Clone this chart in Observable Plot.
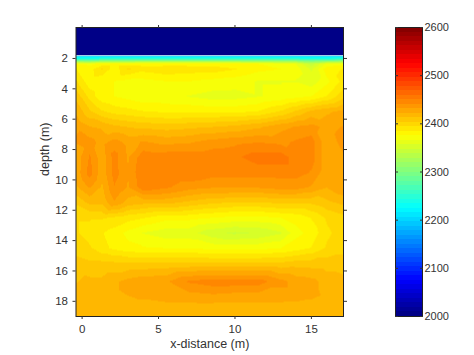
<!DOCTYPE html>
<html>
<head>
<meta charset="utf-8">
<script src="https://cdn.jsdelivr.net/npm/d3@7"></script>
<script src="https://cdn.jsdelivr.net/npm/@observablehq/plot@0.6"></script>
<style>
html,body{margin:0;padding:0;background:#fff;overflow:hidden}
#chart{position:relative;width:474px;height:355px}
#chart svg{position:absolute;left:0;top:0;background:transparent}
</style>
</head>
<body>
<div id="chart"></div>
<script>
const xStations = [-0.4, 0.5, 1.3, 2.1, 3, 4, 5.5, 7, 8.5, 10, 11.5, 13, 14, 15, 16, 17.1];
const depths = [0, 1.78, 1.85, 2, 2.15, 2.35, 2.7, 3.5, 4.5, 5.5, 6.5, 7.5, 8.5, 9.5, 10.5, 11.5, 12.5, 13.5, 14.5, 15.5, 16.7, 17.6, 18.5, 19];

const d00 = [2000,2000,2000,2000,2000,2000,2000,2000,2000,2000,2000,2000,2000,2000,2000,2000];
const d18 = [2000,2000,2000,2000,2000,2000,2000,2000,2000,2000,2000,2000,2000,2000,2000,2000];
const d19 = [2225,2225,2225,2225,2225,2225,2225,2225,2225,2225,2225,2225,2225,2225,2225,2225];
const d20 = [2235,2230,2240,2240,2240,2245,2245,2245,2245,2245,2245,2240,2240,2230,2235,2240];
const d22 = [2300,2295,2305,2305,2305,2310,2310,2310,2310,2310,2310,2305,2305,2295,2300,2305];
const d24 = [2375,2372,2378,2378,2378,2380,2380,2380,2380,2378,2375,2372,2365,2340,2368,2372];
const d27 = [2385,2380,2395,2378,2395,2388,2392,2390,2390,2385,2378,2375,2370,2355,2380,2385];
const d35 = [2395,2378,2375,2375,2372,2372,2375,2375,2372,2370,2365,2365,2365,2360,2372,2388];
const d45 = [2410,2390,2378,2375,2372,2368,2368,2365,2362,2362,2365,2368,2372,2375,2385,2400];
const d55 = [2420,2405,2395,2390,2388,2385,2383,2383,2382,2382,2385,2395,2405,2415,2420,2425];
const d65 = [2430,2422,2420,2415,2412,2410,2408,2410,2412,2415,2420,2428,2432,2435,2428,2432];
const d75 = [2432,2435,2428,2435,2428,2432,2428,2430,2435,2438,2440,2438,2442,2445,2425,2435];
const d85 = [2425,2442,2425,2445,2430,2447,2447,2447,2447,2448,2455,2455,2445,2445,2425,2430];
const d95 = [2425,2445,2425,2445,2432,2450,2450,2450,2445,2445,2445,2445,2445,2440,2425,2430];
const d105 = [2420,2432,2420,2440,2430,2447,2442,2435,2432,2432,2432,2435,2435,2430,2422,2430];
const d115 = [2405,2415,2415,2430,2418,2415,2415,2410,2405,2402,2402,2405,2405,2405,2410,2415];
const d125 = [2395,2395,2395,2392,2388,2385,2378,2378,2375,2372,2372,2375,2378,2385,2395,2400];
const d135 = [2395,2390,2385,2380,2372,2365,2360,2360,2350,2345,2348,2355,2372,2378,2392,2398];
const d145 = [2398,2395,2388,2382,2378,2376,2375,2375,2372,2372,2372,2375,2380,2385,2395,2400];
const d155 = [2408,2405,2405,2405,2405,2405,2405,2405,2405,2405,2405,2405,2408,2408,2408,2408];
const d165 = [2412,2415,2415,2420,2425,2428,2430,2442,2446,2446,2446,2434,2428,2425,2418,2415];
const d175 = [2420,2420,2422,2420,2422,2425,2428,2428,2430,2428,2428,2428,2428,2425,2420,2415];
const d185 = [2420,2418,2415,2415,2415,2415,2416,2416,2416,2416,2416,2416,2415,2415,2415,2415];
const d190 = [2418,2416,2415,2415,2415,2415,2415,2415,2415,2415,2415,2415,2415,2415,2415,2415];
const rows = [d00,d18,d19,d20,d22,d24,d27,d35,d45,d55,d65,d75,d85,d95,d105,d115,d125,d135,d145,d155,d165,d175,d185,d190];

const xTicks = [0, 5, 10, 15];
const yTicks = [2, 4, 6, 8, 10, 12, 14, 16, 18];
const barTicks = [2000, 2100, 2200, 2300, 2400, 2500, 2600];
const velocityDomain = [2000, 2600];
const surfaceDepth = [1.82];
const xLabel = "x-distance (m)";
const yLabel = "depth (m)";

const field = rows.flatMap((r, i) => r.map((v, j) => ({x: xStations[j], depth: depths[i], v})));

const clamp01 = t => Math.max(0, Math.min(1, t));
function jet(t) {
  const i = Math.min(63, Math.floor(clamp01(t) * 64));
  const u = (i + 0.5) / 64;
  const r = clamp01(Math.min(4 * u - 1.5, -4 * u + 4.5));
  const g = clamp01(Math.min(4 * u - 0.5, -4 * u + 3.5));
  const b = clamp01(Math.min(4 * u + 0.5, -4 * u + 2.5));
  return `rgb(${Math.round(r * 255)},${Math.round(g * 255)},${Math.round(b * 255)})`;
}
const colorScale = {type: "linear", domain: velocityDomain, interpolate: jet};
const ink = "#333";
const font = "Liberation Sans, Arial, sans-serif";

const main = Plot.plot({
  width: 474, height: 355,
  marginLeft: 75.5, marginRight: 131, marginTop: 27, marginBottom: 39,
  style: {fontFamily: font, color: ink, background: "transparent"},
  x: {domain: [-0.4, 17.1]},
  y: {domain: [-0.04, 19], reverse: true},
  color: colorScale,
  marks: [
    Plot.raster(field, {x: "x", y: "depth", fill: "v", interpolate: "barycentric", pixelSize: 1}),
    Plot.ruleY(surfaceDepth, {stroke: "#c8f4f4", strokeWidth: 1}),
    Plot.frame({stroke: "#222", strokeWidth: 1}),
    Plot.axisX({ticks: xTicks, anchor: "bottom", tickSize: 3, tickPadding: 5, label: null, fontSize: 11.5}),
    Plot.axisX({ticks: xTicks, anchor: "top", tickSize: 3, label: null, tickFormat: () => ""}),
    Plot.axisY({ticks: yTicks, anchor: "left", tickSize: 3, tickPadding: 5, label: null, fontSize: 11.5}),
    Plot.axisY({ticks: yTicks, anchor: "right", tickSize: 3, label: null, tickFormat: () => ""}),
    Plot.text([xLabel], {frameAnchor: "bottom", dy: 31, fontSize: 12.5, fill: ink}),
    Plot.text([yLabel], {frameAnchor: "left", dx: -31, dy: 4, rotate: -90, fontSize: 12.5, fill: ink})
  ]
});

const levelStep = (velocityDomain[1] - velocityDomain[0]) / 64;
const levels = d3.range(64).map(i => velocityDomain[0] + i * levelStep);
const bar = Plot.plot({
  width: 474, height: 355,
  marginLeft: 395, marginRight: 52, marginTop: 27, marginBottom: 39,
  style: {fontFamily: font, color: ink, background: "transparent"},
  x: {domain: [0, 1], axis: null},
  y: {domain: velocityDomain},
  color: colorScale,
  marks: [
    Plot.rect(levels, {x1: () => 0, x2: () => 1, y1: d => d, y2: d => d + levelStep, fill: d => d + levelStep / 2, shapeRendering: "crispEdges"}),
    Plot.frame({stroke: "#222", strokeWidth: 1}),
    Plot.axisY({ticks: barTicks, anchor: "right", tickSize: -3, tickPadding: 5, label: null, fontSize: 11, tickFormat: d => String(d)}),
    Plot.axisY({ticks: barTicks, anchor: "left", tickSize: -3, label: null, tickFormat: () => ""})
  ]
});

const host = document.getElementById("chart");
host.append(main, bar);
</script>
</body>
</html>
